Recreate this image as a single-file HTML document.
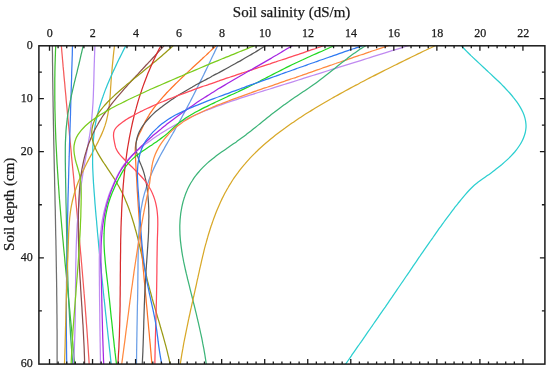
<!DOCTYPE html>
<html><head><meta charset="utf-8"><style>
html,body{margin:0;padding:0;background:#fff;width:550px;height:372px;overflow:hidden}
svg{display:block}
.t{font-family:"Liberation Serif",serif;font-size:12px;fill:#1a1a1a;stroke:#1a1a1a;stroke-width:0.25}
.ti{font-family:"Liberation Serif",serif;font-size:15px;fill:#1a1a1a;stroke:#1a1a1a;stroke-width:0.25}
.c path{fill:none;stroke-width:1.25;stroke-linejoin:round;stroke-linecap:round}
</style></head><body>
<svg width="550" height="372" viewBox="0 0 550 372">
<defs><clipPath id="cp"><rect x="38.9" y="45.8" width="506.00" height="318.30"/></clipPath></defs>
<g class="c" clip-path="url(#cp)">
<path d="M52.4,42.5C52.4,43.5 52.4,46.5 52.4,48.5C52.4,50.5 52.4,52.5 52.5,54.5C52.5,56.5 52.5,58.5 52.5,60.5C52.5,62.5 52.6,64.5 52.6,66.5C52.6,68.5 52.6,70.5 52.6,72.5C52.7,74.5 52.7,76.5 52.7,78.5C52.7,80.5 52.8,82.5 52.8,84.5C52.8,86.5 52.8,88.5 52.9,90.5C52.9,92.5 52.9,94.5 53.0,96.5C53.0,98.5 53.0,100.5 53.1,102.5C53.1,104.5 53.1,106.5 53.2,108.5C53.2,110.5 53.2,112.5 53.3,114.5C53.3,116.5 53.3,118.5 53.4,120.5C53.4,122.5 53.4,124.5 53.5,126.5C53.5,128.5 53.6,130.5 53.6,132.5C53.6,134.5 53.7,136.5 53.7,138.5C53.8,140.5 53.8,142.5 53.8,144.5C53.9,146.5 53.9,148.5 54.0,150.5C54.0,152.5 54.0,154.5 54.1,156.5C54.1,158.5 54.2,160.5 54.2,162.5C54.3,164.5 54.3,166.5 54.3,168.5C54.4,170.5 54.4,172.5 54.5,174.5C54.5,176.5 54.6,178.5 54.6,180.5C54.6,182.5 54.7,184.5 54.7,186.5C54.8,188.5 54.8,190.5 54.9,192.5C54.9,194.5 55.0,196.5 55.0,198.5C55.0,200.5 55.1,202.5 55.1,204.5C55.2,206.5 55.2,208.5 55.3,210.5C55.3,212.5 55.3,214.5 55.4,216.5C55.4,218.5 55.5,220.5 55.5,222.5C55.5,224.5 55.6,226.5 55.6,228.5C55.7,230.5 55.7,232.5 55.7,234.5C55.8,236.5 55.8,238.5 55.9,240.5C55.9,242.5 55.9,244.5 56.0,246.5C56.0,248.5 56.1,250.5 56.1,252.5C56.1,254.5 56.2,256.5 56.2,258.5C56.2,260.5 56.3,262.5 56.3,264.5C56.3,266.5 56.4,268.5 56.4,270.5C56.4,272.5 56.5,274.5 56.5,276.5C56.5,278.5 56.6,280.5 56.6,282.5C56.6,284.5 56.6,286.5 56.7,288.5C56.7,290.5 56.7,292.5 56.7,294.5C56.8,296.5 56.8,298.5 56.8,300.5C56.8,302.5 56.9,304.5 56.9,306.5C56.9,308.5 56.9,310.5 56.9,312.5C57.0,314.5 57.0,316.5 57.0,318.5C57.0,320.5 57.0,322.5 57.0,324.5C57.0,326.5 57.0,328.5 57.1,330.5C57.1,332.5 57.1,334.5 57.1,336.5C57.1,338.5 57.1,340.5 57.1,342.5C57.1,344.5 57.1,346.5 57.1,348.5C57.1,350.5 57.1,352.5 57.1,354.5C57.1,356.5 57.1,358.5 57.1,360.5C57.1,362.5 57.1,365.4 57.1,366.5C57.1,367.5 57.1,366.9 57.1,367.0" stroke="#6e6e6e"/>
<path d="M55.8,42.5C55.8,43.5 55.7,46.5 55.6,48.5C55.5,50.5 55.4,52.5 55.4,54.5C55.3,56.5 55.2,58.5 55.2,60.5C55.1,62.5 55.1,64.5 55.0,66.5C55.0,68.5 54.9,70.5 54.9,72.5C54.9,74.5 54.9,76.5 54.8,78.5C54.8,80.5 54.8,82.5 54.8,84.5C54.8,86.5 54.8,88.5 54.8,90.5C54.8,92.5 54.8,94.5 54.8,96.5C54.8,98.5 54.8,100.5 54.9,102.5C54.9,104.5 54.9,106.5 54.9,108.5C55.0,110.5 55.0,112.5 55.1,114.5C55.1,116.5 55.2,118.5 55.2,120.5C55.3,122.5 55.3,124.5 55.4,126.5C55.5,128.5 55.5,130.5 55.6,132.5C55.7,134.5 55.8,136.5 55.8,138.5C55.9,140.5 56.0,142.5 56.1,144.5C56.2,146.5 56.3,148.5 56.4,150.5C56.5,152.5 56.6,154.5 56.7,156.4C56.8,158.4 56.9,160.4 57.0,162.4C57.1,164.4 57.3,166.4 57.4,168.4C57.5,170.4 57.6,172.4 57.8,174.4C57.9,176.4 58.0,178.4 58.2,180.4C58.3,182.4 58.4,184.4 58.6,186.4C58.7,188.4 58.9,190.4 59.0,192.4C59.1,194.4 59.3,196.4 59.4,198.4C59.6,200.4 59.8,202.4 59.9,204.3C60.1,206.3 60.2,208.3 60.4,210.3C60.6,212.3 60.7,214.3 60.9,216.3C61.1,218.3 61.2,220.3 61.4,222.3C61.6,224.3 61.7,226.3 61.9,228.3C62.1,230.3 62.3,232.2 62.4,234.2C62.6,236.2 62.8,238.2 63.0,240.2C63.2,242.2 63.4,244.2 63.5,246.2C63.7,248.2 63.9,250.2 64.1,252.2C64.3,254.2 64.5,256.1 64.7,258.1C64.8,260.1 65.0,262.1 65.2,264.1C65.4,266.1 65.6,268.1 65.8,270.1C66.0,272.1 66.2,274.1 66.4,276.1C66.6,278.0 66.8,280.0 67.0,282.0C67.1,284.0 67.3,286.0 67.5,288.0C67.7,290.0 67.9,292.0 68.1,294.0C68.3,296.0 68.5,298.0 68.7,299.9C68.9,301.9 69.1,303.9 69.3,305.9C69.5,307.9 69.7,309.9 69.9,311.9C70.0,313.9 70.2,315.9 70.4,317.9C70.6,319.9 70.8,321.8 71.0,323.8C71.2,325.8 71.4,327.8 71.6,329.8C71.8,331.8 71.9,333.8 72.1,335.8C72.3,337.8 72.5,339.8 72.7,341.8C72.9,343.7 73.0,345.7 73.2,347.7C73.4,349.7 73.6,351.7 73.8,353.7C73.9,355.7 74.1,357.7 74.3,359.7C74.5,361.7 74.7,364.4 74.8,365.7C74.9,366.9 74.9,366.8 74.9,367.0" stroke="#3fbf2f"/>
<path d="M61.1,42.5C61.1,43.5 61.4,46.5 61.6,48.5C61.7,50.5 61.9,52.5 62.1,54.5C62.3,56.4 62.4,58.4 62.6,60.4C62.8,62.4 63.0,64.4 63.1,66.4C63.3,68.4 63.5,70.4 63.7,72.4C63.8,74.4 64.0,76.4 64.2,78.4C64.4,80.4 64.6,82.3 64.8,84.3C64.9,86.3 65.1,88.3 65.3,90.3C65.5,92.3 65.7,94.3 65.9,96.3C66.0,98.3 66.2,100.3 66.4,102.3C66.6,104.3 66.8,106.2 67.0,108.2C67.2,110.2 67.4,112.2 67.5,114.2C67.7,116.2 67.9,118.2 68.1,120.2C68.3,122.2 68.5,124.2 68.7,126.2C68.9,128.1 69.1,130.1 69.3,132.1C69.4,134.1 69.6,136.1 69.8,138.1C70.0,140.1 70.2,142.1 70.4,144.1C70.6,146.1 70.8,148.1 71.0,150.0C71.2,152.0 71.4,154.0 71.5,156.0C71.7,158.0 71.9,160.0 72.1,162.0C72.3,164.0 72.5,166.0 72.7,168.0C72.9,170.0 73.1,171.9 73.3,173.9C73.5,175.9 73.7,177.9 73.9,179.9C74.0,181.9 74.2,183.9 74.4,185.9C74.6,187.9 74.8,189.9 75.0,191.9C75.2,193.8 75.4,195.8 75.6,197.8C75.8,199.8 75.9,201.8 76.1,203.8C76.3,205.8 76.5,207.8 76.7,209.8C76.9,211.8 77.1,213.8 77.3,215.7C77.4,217.7 77.6,219.7 77.8,221.7C78.0,223.7 78.2,225.7 78.4,227.7C78.6,229.7 78.7,231.7 78.9,233.7C79.1,235.7 79.3,237.7 79.5,239.6C79.6,241.6 79.8,243.6 80.0,245.6C80.2,247.6 80.4,249.6 80.5,251.6C80.7,253.6 80.9,255.6 81.1,257.6C81.2,259.6 81.4,261.6 81.6,263.5C81.8,265.5 81.9,267.5 82.1,269.5C82.3,271.5 82.5,273.5 82.6,275.5C82.8,277.5 83.0,279.5 83.1,281.5C83.3,283.5 83.5,285.5 83.6,287.5C83.8,289.5 84.0,291.4 84.1,293.4C84.3,295.4 84.4,297.4 84.6,299.4C84.8,301.4 84.9,303.4 85.1,305.4C85.2,307.4 85.4,309.4 85.5,311.4C85.7,313.4 85.8,315.4 86.0,317.4C86.1,319.4 86.3,321.4 86.4,323.3C86.6,325.3 86.7,327.3 86.9,329.3C87.0,331.3 87.2,333.3 87.3,335.3C87.4,337.3 87.6,339.3 87.7,341.3C87.8,343.3 88.0,345.3 88.1,347.3C88.2,349.3 88.4,351.3 88.5,353.3C88.6,355.3 88.8,357.3 88.9,359.3C89.0,361.3 89.2,364.0 89.2,365.3C89.3,366.5 89.3,366.7 89.4,367.0" stroke="#f55a5a"/>
<path d="M72.6,42.5C72.6,43.5 72.5,46.5 72.4,48.5C72.4,50.5 72.3,52.5 72.3,54.5C72.2,56.5 72.1,58.5 72.1,60.5C72.0,62.5 72.0,64.5 71.9,66.5C71.8,68.5 71.8,70.5 71.7,72.5C71.7,74.5 71.6,76.5 71.6,78.5C71.5,80.5 71.4,82.5 71.4,84.5C71.3,86.5 71.2,88.5 71.2,90.5C71.1,92.5 71.1,94.5 71.0,96.5C70.9,98.5 70.9,100.5 70.8,102.5C70.8,104.5 70.7,106.5 70.6,108.5C70.6,110.5 70.5,112.5 70.5,114.5C70.4,116.5 70.3,118.5 70.3,120.5C70.2,122.5 70.1,124.5 70.1,126.5C70.0,128.5 70.0,130.5 69.9,132.5C69.8,134.5 69.8,136.5 69.7,138.5C69.7,140.5 69.6,142.5 69.5,144.5C69.5,146.5 69.4,148.5 69.4,150.5C69.3,152.5 69.2,154.5 69.2,156.4C69.1,158.4 69.1,160.4 69.0,162.4C69.0,164.4 68.9,166.4 68.8,168.4C68.8,170.4 68.7,172.4 68.7,174.4C68.6,176.4 68.6,178.4 68.5,180.4C68.5,182.4 68.4,184.4 68.4,186.4C68.3,188.4 68.3,190.4 68.2,192.4C68.1,194.4 68.1,196.4 68.0,198.4C68.0,200.4 67.9,202.4 67.9,204.4C67.9,206.4 67.8,208.4 67.8,210.4C67.7,212.4 67.7,214.4 67.6,216.4C67.6,218.4 67.5,220.4 67.5,222.4C67.4,224.4 67.4,226.4 67.4,228.4C67.3,230.4 67.3,232.4 67.2,234.4C67.2,236.4 67.2,238.4 67.1,240.4C67.1,242.4 67.1,244.4 67.0,246.4C67.0,248.4 67.0,250.4 66.9,252.4C66.9,254.4 66.9,256.4 66.8,258.4C66.8,260.4 66.8,262.4 66.7,264.4C66.7,266.4 66.7,268.4 66.7,270.4C66.6,272.4 66.6,274.4 66.6,276.4C66.6,278.4 66.6,280.4 66.5,282.4C66.5,284.4 66.5,286.4 66.5,288.4C66.5,290.4 66.5,292.4 66.4,294.4C66.4,296.4 66.4,298.4 66.4,300.4C66.4,302.4 66.4,304.4 66.4,306.4C66.4,308.4 66.4,310.4 66.4,312.4C66.4,314.4 66.4,316.4 66.4,318.4C66.4,320.4 66.4,322.4 66.4,324.4C66.4,326.4 66.4,328.4 66.4,330.4C66.4,332.4 66.4,334.4 66.4,336.4C66.4,338.4 66.4,340.4 66.5,342.4C66.5,344.4 66.5,346.4 66.5,348.4C66.5,350.4 66.6,352.4 66.6,354.4C66.6,356.4 66.6,358.4 66.7,360.4C66.7,362.4 66.7,365.3 66.8,366.4C66.8,367.5 66.8,366.9 66.8,367.0" stroke="#3a7bf0"/>
<path d="M83.8,42.5C83.6,43.5 83.0,46.4 82.6,48.4C82.1,50.3 81.7,52.3 81.2,54.2C80.8,56.2 80.3,58.1 79.9,60.1C79.4,62.0 79.0,64.0 78.5,65.9C78.0,67.9 77.5,69.8 77.1,71.8C76.6,73.7 76.1,75.6 75.6,77.6C75.2,79.5 74.7,81.5 74.2,83.4C73.8,85.4 73.3,87.3 72.8,89.3C72.4,91.2 72.0,93.2 71.5,95.1C71.1,97.1 70.7,99.0 70.3,101.0C69.9,102.9 69.5,104.9 69.2,106.8C68.8,108.8 68.5,110.8 68.1,112.7C67.8,114.7 67.5,116.7 67.3,118.7C67.0,120.6 66.8,122.6 66.6,124.6C66.3,126.6 66.2,128.6 66.0,130.6C65.9,132.6 65.8,134.6 65.7,136.6C65.6,138.6 65.5,140.6 65.4,142.6C65.4,144.6 65.3,146.6 65.3,148.6C65.3,150.6 65.3,152.6 65.3,154.6C65.3,156.6 65.3,158.6 65.3,160.6C65.3,162.6 65.4,164.6 65.4,166.6C65.4,168.6 65.4,170.6 65.5,172.6C65.5,174.6 65.5,176.6 65.6,178.6C65.6,180.6 65.6,182.6 65.7,184.6C65.7,186.6 65.8,188.6 65.8,190.6C65.8,192.6 65.9,194.6 65.9,196.6C66.0,198.6 66.0,200.6 66.0,202.6C66.1,204.6 66.1,206.6 66.2,208.6C66.2,210.6 66.2,212.6 66.3,214.6C66.3,216.6 66.4,218.6 66.4,220.5C66.4,222.5 66.5,224.5 66.5,226.5C66.6,228.5 66.6,230.5 66.6,232.5C66.7,234.5 66.7,236.5 66.8,238.5C66.8,240.5 66.9,242.5 66.9,244.5C67.0,246.5 67.0,248.5 67.1,250.5C67.1,252.5 67.2,254.5 67.2,256.5C67.3,258.5 67.3,260.5 67.4,262.5C67.4,264.5 67.5,266.5 67.5,268.5C67.6,270.5 67.7,272.5 67.7,274.5C67.8,276.5 67.9,278.5 67.9,280.5C68.0,282.5 68.1,284.5 68.1,286.5C68.2,288.5 68.3,290.5 68.4,292.5C68.5,294.5 68.5,296.5 68.6,298.5C68.7,300.5 68.8,302.5 68.9,304.5C69.0,306.5 69.1,308.5 69.2,310.5C69.3,312.5 69.4,314.5 69.5,316.5C69.6,318.5 69.7,320.5 69.8,322.5C69.9,324.5 70.0,326.5 70.2,328.5C70.3,330.5 70.4,332.5 70.5,334.5C70.7,336.5 70.8,338.5 70.9,340.5C71.1,342.5 71.2,344.4 71.4,346.4C71.5,348.4 71.7,350.4 71.8,352.4C72.0,354.4 72.2,356.4 72.3,358.4C72.5,360.4 72.7,363.0 72.8,364.4C73.0,365.8 73.0,366.6 73.1,367.0" stroke="#3aae6a"/>
<path d="M95.2,42.5C95.1,43.5 94.9,46.5 94.8,48.5C94.7,50.5 94.7,52.5 94.6,54.5C94.5,56.5 94.4,58.5 94.4,60.5C94.3,62.5 94.2,64.5 94.2,66.5C94.1,68.5 94.1,70.5 94.0,72.5C94.0,74.5 93.9,76.5 93.9,78.5C93.8,80.5 93.8,82.5 93.7,84.5C93.6,86.5 93.6,88.5 93.5,90.5C93.4,92.5 93.4,94.5 93.3,96.5C93.2,98.5 93.1,100.5 93.0,102.5C92.9,104.5 92.7,106.4 92.6,108.4C92.5,110.4 92.3,112.4 92.1,114.4C92.0,116.4 91.8,118.4 91.6,120.4C91.4,122.4 91.1,124.4 90.9,126.4C90.6,128.4 90.4,130.3 90.1,132.3C89.8,134.3 89.5,136.3 89.1,138.3C88.8,140.2 88.5,142.2 88.1,144.2C87.8,146.2 87.4,148.1 87.1,150.1C86.7,152.1 86.3,154.0 86.0,156.0C85.6,158.0 85.3,159.9 84.9,161.9C84.5,163.9 84.2,165.8 83.9,167.8C83.5,169.8 83.2,171.7 82.9,173.7C82.6,175.7 82.3,177.7 82.0,179.6C81.7,181.6 81.4,183.6 81.1,185.6C80.8,187.6 80.6,189.5 80.3,191.5C80.1,193.5 79.8,195.5 79.6,197.5C79.4,199.5 79.2,201.4 79.0,203.4C78.8,205.4 78.6,207.4 78.4,209.4C78.2,211.4 78.1,213.4 77.9,215.4C77.8,217.4 77.6,219.4 77.5,221.4C77.3,223.4 77.2,225.4 77.1,227.3C77.0,229.3 76.9,231.3 76.8,233.3C76.7,235.3 76.6,237.3 76.5,239.3C76.4,241.3 76.4,243.3 76.3,245.3C76.2,247.3 76.2,249.3 76.1,251.3C76.0,253.3 76.0,255.3 76.0,257.3C75.9,259.3 75.9,261.3 75.8,263.3C75.8,265.3 75.8,267.3 75.7,269.3C75.7,271.3 75.7,273.3 75.7,275.3C75.6,277.3 75.6,279.3 75.6,281.3C75.6,283.3 75.6,285.3 75.5,287.3C75.5,289.3 75.5,291.3 75.5,293.3C75.5,295.3 75.5,297.3 75.4,299.3C75.4,301.3 75.4,303.3 75.4,305.3C75.4,307.3 75.3,309.3 75.3,311.3C75.3,313.3 75.3,315.3 75.2,317.3C75.2,319.3 75.2,321.3 75.1,323.3C75.1,325.3 75.0,327.3 75.0,329.3C74.9,331.3 74.9,333.3 74.8,335.3C74.8,337.3 74.7,339.3 74.6,341.3C74.5,343.3 74.5,345.3 74.4,347.3C74.3,349.3 74.2,351.3 74.1,353.3C74.0,355.3 73.9,357.3 73.7,359.3C73.6,361.3 73.4,364.0 73.3,365.3C73.2,366.6 73.2,366.7 73.2,367.0" stroke="#b98af5"/>
<path d="M114.8,42.5C114.7,43.5 114.4,46.5 114.2,48.5C113.9,50.5 113.7,52.4 113.5,54.4C113.3,56.4 113.1,58.4 112.9,60.4C112.7,62.4 112.5,64.4 112.3,66.4C112.1,68.4 112.0,70.3 111.8,72.3C111.6,74.3 111.4,76.3 111.3,78.3C111.1,80.3 111.0,82.3 110.9,84.3C110.7,86.3 110.6,88.3 110.5,90.3C110.4,92.3 110.3,94.3 110.1,96.3C110.0,98.3 109.8,100.3 109.6,102.3C109.4,104.3 109.2,106.2 108.9,108.2C108.6,110.2 108.3,112.2 107.9,114.2C107.5,116.1 107.1,118.1 106.6,120.1C106.1,122.0 105.5,124.0 104.9,125.9C104.2,127.8 103.5,129.7 102.8,131.6C102.0,133.4 101.2,135.3 100.3,137.1C99.5,138.9 98.6,140.8 97.7,142.6C96.8,144.4 95.8,146.1 94.9,147.9C94.0,149.7 93.0,151.4 92.1,153.2C91.1,155.0 90.2,156.7 89.2,158.5C88.3,160.3 87.4,162.0 86.5,163.8C85.6,165.6 84.7,167.4 83.9,169.2C83.0,171.0 82.2,172.8 81.4,174.6C80.6,176.4 79.8,178.2 79.1,180.1C78.3,181.9 77.6,183.8 76.9,185.6C76.3,187.5 75.6,189.4 75.0,191.3C74.4,193.2 73.9,195.1 73.4,197.0C72.9,198.9 72.4,200.9 72.0,202.8C71.6,204.7 71.2,206.7 70.9,208.7C70.6,210.6 70.3,212.6 70.1,214.6C69.8,216.6 69.6,218.6 69.5,220.6C69.3,222.5 69.2,224.5 69.0,226.5C68.9,228.5 68.8,230.5 68.7,232.5C68.6,234.5 68.6,236.5 68.5,238.5C68.4,240.5 68.4,242.5 68.3,244.5C68.2,246.5 68.2,248.5 68.1,250.5C68.0,252.5 67.9,254.5 67.9,256.5C67.8,258.5 67.7,260.5 67.6,262.5C67.5,264.5 67.4,266.5 67.4,268.5C67.3,270.5 67.2,272.5 67.1,274.5C67.0,276.5 67.0,278.5 66.9,280.5C66.8,282.5 66.7,284.5 66.7,286.5C66.6,288.5 66.5,290.5 66.5,292.5C66.4,294.5 66.4,296.5 66.3,298.5C66.3,300.5 66.2,302.5 66.1,304.5C66.1,306.5 66.0,308.5 66.0,310.5C65.9,312.5 65.9,314.5 65.8,316.5C65.8,318.5 65.7,320.5 65.7,322.5C65.6,324.5 65.6,326.5 65.5,328.5C65.5,330.5 65.4,332.5 65.4,334.5C65.3,336.5 65.3,338.5 65.2,340.5C65.2,342.5 65.1,344.5 65.1,346.5C65.0,348.5 64.9,350.5 64.9,352.5C64.8,354.5 64.7,356.5 64.7,358.5C64.6,360.5 64.5,363.0 64.5,364.4C64.4,365.9 64.4,366.6 64.4,367.0" stroke="#d8a62c"/>
<path d="M127.4,42.5C126.9,43.4 125.6,46.1 124.7,47.9C123.8,49.6 122.9,51.4 122.0,53.2C121.1,55.0 120.2,56.8 119.3,58.6C118.5,60.4 117.6,62.2 116.7,64.0C115.9,65.8 115.0,67.6 114.2,69.4C113.3,71.2 112.5,73.0 111.7,74.8C110.9,76.7 110.1,78.5 109.3,80.3C108.5,82.1 107.8,84.0 107.0,85.8C106.3,87.7 105.5,89.5 104.8,91.4C104.1,93.3 103.4,95.1 102.8,97.0C102.1,98.9 101.5,100.8 100.9,102.7C100.3,104.6 99.7,106.5 99.1,108.4C98.6,110.3 98.1,112.2 97.6,114.1C97.1,116.1 96.7,118.0 96.2,120.0C95.8,121.9 95.5,123.9 95.1,125.8C94.8,127.8 94.5,129.8 94.2,131.8C94.0,133.7 93.8,135.7 93.6,137.7C93.4,139.7 93.2,141.7 93.1,143.7C92.9,145.7 92.8,147.7 92.8,149.7C92.7,151.7 92.6,153.7 92.6,155.7C92.6,157.7 92.6,159.7 92.6,161.7C92.6,163.7 92.7,165.7 92.7,167.7C92.8,169.7 92.9,171.7 93.0,173.7C93.1,175.7 93.2,177.6 93.3,179.6C93.4,181.6 93.5,183.6 93.7,185.6C93.8,187.6 94.0,189.6 94.1,191.6C94.3,193.6 94.4,195.6 94.6,197.6C94.7,199.6 94.9,201.6 95.0,203.6C95.2,205.6 95.4,207.6 95.5,209.6C95.7,211.6 95.9,213.6 96.0,215.5C96.2,217.5 96.4,219.5 96.6,221.5C96.7,223.5 96.9,225.5 97.1,227.5C97.3,229.5 97.4,231.5 97.6,233.5C97.8,235.5 98.0,237.5 98.2,239.5C98.4,241.4 98.5,243.4 98.7,245.4C98.9,247.4 99.1,249.4 99.3,251.4C99.5,253.4 99.7,255.4 99.9,257.4C100.1,259.4 100.3,261.4 100.5,263.3C100.7,265.3 100.9,267.3 101.1,269.3C101.3,271.3 101.5,273.3 101.7,275.3C101.9,277.3 102.1,279.3 102.3,281.3C102.5,283.2 102.7,285.2 102.9,287.2C103.1,289.2 103.3,291.2 103.5,293.2C103.7,295.2 103.9,297.2 104.1,299.2C104.4,301.1 104.6,303.1 104.8,305.1C105.0,307.1 105.2,309.1 105.4,311.1C105.6,313.1 105.8,315.1 106.1,317.1C106.3,319.0 106.5,321.0 106.7,323.0C106.9,325.0 107.1,327.0 107.4,329.0C107.6,331.0 107.8,333.0 108.0,335.0C108.2,336.9 108.4,338.9 108.7,340.9C108.9,342.9 109.1,344.9 109.3,346.9C109.5,348.9 109.8,350.9 110.0,352.8C110.2,354.8 110.4,356.8 110.6,358.8C110.9,360.8 111.1,363.4 111.3,364.8C111.4,366.1 111.5,366.6 111.5,367.0" stroke="#2cc8d2"/>
<path d="M166.7,42.5C166.1,43.3 164.1,45.5 162.8,47.1C161.4,48.6 160.1,50.1 158.7,51.6C157.4,53.0 156.0,54.5 154.7,56.0C153.3,57.5 152.0,59.0 150.6,60.4C149.2,61.9 147.9,63.4 146.5,64.8C145.1,66.3 143.7,67.7 142.4,69.2C141.0,70.7 139.6,72.1 138.3,73.6C136.9,75.0 135.6,76.5 134.2,78.0C132.9,79.4 131.5,80.9 130.2,82.4C128.8,83.8 127.5,85.3 126.2,86.8C124.8,88.3 123.5,89.8 122.2,91.3C120.9,92.8 119.6,94.3 118.3,95.8C117.0,97.3 115.8,98.8 114.5,100.4C113.3,101.9 112.0,103.5 110.8,105.0C109.6,106.6 108.4,108.2 107.3,109.8C106.1,111.4 104.9,113.0 103.8,114.6C102.7,116.3 101.6,117.9 100.6,119.6C99.5,121.3 98.5,123.0 97.6,124.7C96.6,126.4 95.6,128.1 94.7,129.9C93.9,131.6 93.0,133.4 92.2,135.2C91.4,137.0 90.6,138.9 89.9,140.7C89.1,142.5 88.4,144.4 87.8,146.3C87.2,148.2 86.5,150.1 86.0,152.0C85.4,153.9 84.9,155.8 84.4,157.7C83.9,159.6 83.5,161.6 83.1,163.5C82.7,165.5 82.3,167.4 81.9,169.4C81.6,171.4 81.3,173.3 81.0,175.3C80.7,177.3 80.5,179.3 80.3,181.3C80.1,183.2 79.9,185.2 79.7,187.2C79.5,189.2 79.4,191.2 79.3,193.2C79.1,195.2 79.0,197.2 78.9,199.2C78.8,201.2 78.7,203.2 78.7,205.2C78.6,207.2 78.5,209.2 78.5,211.2C78.4,213.2 78.4,215.2 78.4,217.2C78.3,219.2 78.3,221.2 78.3,223.2C78.3,225.2 78.3,227.2 78.3,229.2C78.3,231.2 78.4,233.2 78.4,235.2C78.4,237.2 78.5,239.2 78.5,241.2C78.6,243.2 78.6,245.2 78.7,247.2C78.7,249.2 78.8,251.2 78.9,253.2C79.0,255.2 79.0,257.2 79.1,259.2C79.2,261.2 79.3,263.2 79.4,265.2C79.5,267.2 79.6,269.1 79.7,271.1C79.8,273.1 79.9,275.1 80.0,277.1C80.1,279.1 80.3,281.1 80.4,283.1C80.5,285.1 80.6,287.1 80.7,289.1C80.9,291.1 81.0,293.1 81.1,295.1C81.2,297.1 81.4,299.1 81.5,301.1C81.6,303.1 81.7,305.1 81.9,307.1C82.0,309.1 82.1,311.1 82.2,313.1C82.4,315.1 82.5,317.1 82.6,319.1C82.7,321.1 82.8,323.1 83.0,325.0C83.1,327.0 83.2,329.0 83.3,331.0C83.4,333.0 83.5,335.0 83.6,337.0C83.7,339.0 83.8,341.0 83.9,343.0C84.0,345.0 84.1,347.0 84.2,349.0C84.2,351.0 84.3,353.0 84.4,355.0C84.5,357.0 84.5,359.0 84.6,361.0C84.6,363.0 84.7,366.0 84.7,367.0" stroke="#8c4f4f"/>
<path d="M176.4,42.5C175.7,43.2 173.5,45.3 172.0,46.7C170.5,48.1 169.0,49.5 167.5,50.8C166.0,52.2 164.5,53.5 163.0,54.8C161.5,56.2 159.9,57.5 158.4,58.8C156.9,60.1 155.3,61.3 153.8,62.6C152.2,63.9 150.7,65.2 149.1,66.5C147.5,67.7 146.0,69.0 144.4,70.3C142.9,71.5 141.3,72.8 139.8,74.0C138.2,75.3 136.7,76.6 135.1,77.8C133.6,79.1 132.0,80.3 130.5,81.6C129.0,82.9 127.4,84.1 125.9,85.4C124.4,86.7 122.9,88.0 121.4,89.3C119.9,90.6 118.4,91.9 116.9,93.2C115.4,94.5 114.0,95.9 112.6,97.2C111.1,98.6 109.7,99.9 108.4,101.3C107.0,102.7 105.7,104.2 104.4,105.6C103.1,107.1 101.9,108.6 100.7,110.1C99.5,111.7 98.4,113.3 97.4,114.9C96.4,116.6 95.5,118.3 94.7,120.0C93.9,121.8 93.2,123.6 92.7,125.5C92.2,127.4 91.9,129.3 91.8,131.3C91.7,133.3 91.8,135.3 92.0,137.3C92.3,139.3 92.8,141.3 93.4,143.2C94.0,145.2 94.8,147.1 95.7,149.0C96.5,150.8 97.5,152.6 98.5,154.4C99.5,156.2 100.6,157.9 101.7,159.6C102.7,161.3 103.9,163.0 105.0,164.7C106.1,166.4 107.2,168.0 108.3,169.7C109.4,171.3 110.5,173.0 111.6,174.7C112.7,176.3 113.8,178.0 114.9,179.7C115.9,181.4 116.9,183.0 117.9,184.8C118.9,186.5 119.8,188.2 120.7,190.0C121.7,191.7 122.5,193.5 123.4,195.3C124.2,197.1 125.0,198.9 125.7,200.7C126.5,202.6 127.3,204.4 128.0,206.3C128.7,208.1 129.4,210.0 130.0,211.9C130.7,213.8 131.3,215.6 131.9,217.5C132.5,219.4 133.1,221.3 133.7,223.2C134.3,225.2 134.8,227.1 135.3,229.0C135.9,230.9 136.4,232.8 136.9,234.8C137.4,236.7 137.9,238.6 138.4,240.6C138.8,242.5 139.3,244.5 139.7,246.4C140.2,248.4 140.6,250.3 141.1,252.3C141.5,254.2 142.0,256.2 142.4,258.1C142.8,260.1 143.3,262.0 143.7,264.0C144.1,265.9 144.6,267.9 145.0,269.8C145.5,271.8 145.9,273.7 146.4,275.7C146.8,277.6 147.3,279.6 147.7,281.5C148.2,283.5 148.7,285.4 149.2,287.4C149.7,289.3 150.2,291.2 150.8,293.2C151.3,295.1 151.8,297.0 152.3,299.0C152.9,300.9 153.4,302.8 154.0,304.7C154.5,306.7 155.1,308.6 155.7,310.5C156.2,312.4 156.8,314.3 157.4,316.3C157.9,318.2 158.5,320.1 159.1,322.0C159.6,323.9 160.2,325.8 160.7,327.8C161.3,329.7 161.8,331.6 162.4,333.5C162.9,335.4 163.5,337.4 164.0,339.3C164.5,341.2 165.1,343.1 165.6,345.1C166.1,347.0 166.6,348.9 167.1,350.9C167.6,352.8 168.0,354.8 168.5,356.7C169.0,358.6 169.4,360.8 169.8,362.5C170.2,364.3 170.6,366.3 170.7,367.0" stroke="#9a9a14"/>
<path d="M162.6,42.5C162.1,43.4 160.7,46.0 159.8,47.8C158.9,49.5 158.0,51.3 157.1,53.1C156.2,54.9 155.3,56.7 154.5,58.5C153.6,60.3 152.8,62.1 152.0,63.9C151.2,65.7 150.4,67.5 149.6,69.4C148.8,71.2 148.1,73.0 147.3,74.9C146.6,76.7 145.9,78.6 145.2,80.5C144.5,82.3 143.8,84.2 143.1,86.1C142.4,88.0 141.8,89.8 141.2,91.7C140.5,93.6 139.9,95.5 139.3,97.4C138.7,99.3 138.1,101.2 137.6,103.1C137.0,105.1 136.5,107.0 136.0,108.9C135.4,110.8 134.9,112.8 134.4,114.7C133.9,116.6 133.5,118.6 133.0,120.5C132.5,122.5 132.1,124.4 131.7,126.4C131.3,128.3 130.8,130.3 130.5,132.2C130.1,134.2 129.7,136.1 129.3,138.1C129.0,140.1 128.6,142.0 128.3,144.0C127.9,146.0 127.6,147.9 127.3,149.9C127.0,151.9 126.7,153.9 126.5,155.8C126.2,157.8 125.9,159.8 125.7,161.8C125.4,163.8 125.2,165.8 125.0,167.7C124.7,169.7 124.5,171.7 124.3,173.7C124.1,175.7 123.9,177.7 123.7,179.7C123.6,181.7 123.4,183.7 123.2,185.6C123.1,187.6 122.9,189.6 122.8,191.6C122.6,193.6 122.5,195.6 122.4,197.6C122.2,199.6 122.1,201.6 122.0,203.6C121.9,205.6 121.8,207.6 121.7,209.6C121.6,211.6 121.5,213.6 121.5,215.6C121.4,217.6 121.3,219.6 121.2,221.6C121.2,223.6 121.1,225.6 121.0,227.6C121.0,229.6 120.9,231.6 120.9,233.6C120.8,235.6 120.8,237.6 120.7,239.6C120.7,241.6 120.7,243.6 120.6,245.6C120.6,247.6 120.6,249.6 120.6,251.6C120.5,253.6 120.5,255.6 120.5,257.6C120.5,259.6 120.4,261.6 120.4,263.6C120.4,265.6 120.4,267.6 120.4,269.6C120.4,271.6 120.3,273.6 120.3,275.6C120.3,277.6 120.3,279.6 120.3,281.6C120.3,283.6 120.3,285.6 120.2,287.6C120.2,289.6 120.2,291.6 120.2,293.6C120.2,295.6 120.1,297.6 120.1,299.6C120.1,301.6 120.1,303.6 120.1,305.6C120.0,307.6 120.0,309.6 120.0,311.6C119.9,313.6 119.9,315.6 119.8,317.6C119.8,319.6 119.8,321.6 119.7,323.6C119.7,325.6 119.6,327.6 119.5,329.6C119.5,331.6 119.4,333.6 119.4,335.6C119.3,337.6 119.2,339.6 119.1,341.6C119.0,343.6 119.0,345.6 118.9,347.5C118.8,349.5 118.7,351.5 118.5,353.5C118.4,355.5 118.3,357.5 118.2,359.5C118.1,361.5 117.9,364.3 117.8,365.5C117.7,366.8 117.7,366.8 117.7,367.0" stroke="#d82a2c"/>
<path d="M219.2,42.5C218.5,43.2 216.4,45.3 214.9,46.7C213.5,48.1 212.0,49.5 210.6,50.9C209.1,52.3 207.7,53.7 206.2,55.1C204.7,56.4 203.3,57.8 201.8,59.2C200.3,60.5 198.9,61.9 197.4,63.2C195.9,64.6 194.5,65.9 193.0,67.3C191.5,68.7 190.1,70.0 188.6,71.4C187.1,72.7 185.7,74.1 184.2,75.5C182.8,76.8 181.3,78.2 179.9,79.6C178.5,81.0 177.1,82.4 175.6,83.8C174.2,85.2 172.8,86.6 171.4,88.0C170.1,89.4 168.7,90.8 167.3,92.3C166.0,93.7 164.6,95.1 163.3,96.6C162.0,98.1 160.7,99.6 159.4,101.1C158.1,102.6 156.9,104.1 155.7,105.7C154.5,107.2 153.3,108.8 152.2,110.4C151.0,112.0 149.9,113.6 148.9,115.3C147.8,117.0 146.9,118.7 145.9,120.4C145.0,122.1 144.2,123.9 143.3,125.7C142.5,127.5 141.6,129.3 140.7,131.1C139.8,132.9 138.8,134.6 138.0,136.4C137.3,138.2 136.6,140.0 136.2,141.9C135.7,143.8 135.5,145.8 135.3,147.8C135.2,149.7 135.2,151.7 135.3,153.7C135.3,155.7 135.5,157.7 135.6,159.7C135.7,161.7 135.8,163.7 135.9,165.7C136.0,167.7 136.1,169.7 136.2,171.7C136.3,173.7 136.4,175.7 136.6,177.7C136.7,179.7 136.8,181.7 136.9,183.7C137.0,185.7 137.1,187.7 137.2,189.7C137.3,191.7 137.5,193.7 137.6,195.7C137.7,197.7 137.8,199.7 138.0,201.7C138.1,203.7 138.2,205.7 138.4,207.7C138.5,209.7 138.6,211.7 138.8,213.6C138.9,215.6 139.1,217.6 139.2,219.6C139.3,221.6 139.5,223.6 139.6,225.6C139.8,227.6 140.0,229.6 140.1,231.6C140.3,233.6 140.4,235.6 140.6,237.6C140.7,239.6 140.9,241.6 141.1,243.6C141.2,245.6 141.4,247.5 141.6,249.5C141.7,251.5 141.9,253.5 142.1,255.5C142.3,257.5 142.4,259.5 142.6,261.5C142.8,263.5 143.0,265.5 143.1,267.5C143.3,269.5 143.5,271.5 143.7,273.5C143.9,275.4 144.0,277.4 144.2,279.4C144.4,281.4 144.6,283.4 144.8,285.4C145.0,287.4 145.1,289.4 145.3,291.4C145.5,293.4 145.7,295.4 145.9,297.4C146.1,299.3 146.2,301.3 146.4,303.3C146.6,305.3 146.8,307.3 147.0,309.3C147.2,311.3 147.4,313.3 147.5,315.3C147.7,317.3 147.9,319.3 148.1,321.2C148.3,323.2 148.5,325.2 148.6,327.2C148.8,329.2 149.0,331.2 149.2,333.2C149.4,335.2 149.5,337.2 149.7,339.2C149.9,341.2 150.1,343.2 150.3,345.1C150.4,347.1 150.6,349.1 150.8,351.1C151.0,353.1 151.1,355.1 151.3,357.1C151.5,359.1 151.7,361.4 151.8,363.1C151.9,364.7 152.1,366.3 152.1,367.0" stroke="#ff7428"/>
<path d="M219.1,42.5C218.7,43.4 217.4,46.1 216.6,47.9C215.7,49.7 214.8,51.5 214.0,53.4C213.1,55.2 212.3,57.0 211.4,58.8C210.5,60.6 209.7,62.4 208.8,64.2C207.9,66.0 207.1,67.8 206.2,69.6C205.3,71.4 204.4,73.2 203.6,75.0C202.7,76.8 201.8,78.6 200.9,80.4C200.0,82.2 199.1,84.0 198.2,85.8C197.3,87.5 196.4,89.3 195.5,91.1C194.6,92.9 193.7,94.7 192.8,96.5C191.9,98.3 191.0,100.0 190.1,101.8C189.1,103.6 188.2,105.4 187.3,107.1C186.3,108.9 185.4,110.7 184.4,112.4C183.5,114.2 182.5,116.0 181.6,117.7C180.6,119.5 179.7,121.2 178.7,123.0C177.7,124.7 176.7,126.5 175.7,128.2C174.8,130.0 173.8,131.7 172.8,133.5C171.8,135.2 170.8,136.9 169.8,138.7C168.8,140.4 167.8,142.1 166.8,143.9C165.8,145.6 164.8,147.4 163.9,149.1C162.9,150.8 161.9,152.6 161.0,154.3C160.0,156.1 159.1,157.8 158.2,159.6C157.3,161.4 156.4,163.2 155.5,164.9C154.6,166.7 153.8,168.5 153.0,170.3C152.2,172.1 151.4,174.0 150.6,175.8C149.9,177.6 149.1,179.5 148.5,181.4C147.8,183.2 147.1,185.1 146.5,187.0C145.9,188.9 145.3,190.8 144.7,192.7C144.2,194.6 143.7,196.5 143.2,198.4C142.8,200.4 142.3,202.3 142.0,204.3C141.6,206.2 141.2,208.2 140.9,210.2C140.6,212.1 140.4,214.1 140.1,216.1C139.9,218.1 139.7,220.1 139.5,222.1C139.4,224.1 139.2,226.0 139.1,228.0C139.0,230.0 138.9,232.0 138.8,234.0C138.7,236.0 138.6,238.0 138.5,240.0C138.5,242.0 138.4,244.0 138.3,246.0C138.3,248.0 138.2,250.0 138.2,252.0C138.2,254.0 138.1,256.0 138.1,258.0C138.1,260.0 138.0,262.0 138.0,264.0C138.0,266.0 138.0,268.0 138.0,270.0C137.9,272.0 137.9,274.0 137.9,276.0C137.9,278.0 137.9,280.0 137.8,282.0C137.8,284.0 137.8,286.0 137.8,288.0C137.7,290.0 137.7,292.0 137.7,294.0C137.6,296.0 137.6,298.0 137.6,300.0C137.5,302.0 137.5,304.0 137.4,306.0C137.4,308.0 137.4,310.0 137.3,312.0C137.3,314.0 137.2,316.0 137.2,318.0C137.2,320.0 137.1,322.0 137.1,324.0C137.0,326.0 137.0,328.0 137.0,330.0C136.9,332.0 136.9,334.0 136.9,336.0C136.8,338.0 136.8,340.0 136.8,342.0C136.7,344.0 136.7,346.0 136.7,348.0C136.6,350.0 136.6,352.0 136.6,354.0C136.6,356.0 136.6,358.0 136.5,360.0C136.5,362.0 136.5,364.8 136.5,366.0C136.5,367.2 136.5,366.8 136.5,367.0" stroke="#6a9ee6"/>
<path d="M262.3,42.5C261.4,42.9 258.6,44.0 256.7,44.8C254.9,45.5 253.0,46.3 251.2,47.0C249.3,47.8 247.5,48.5 245.6,49.3C243.8,50.0 241.9,50.8 240.1,51.5C238.2,52.3 236.4,53.0 234.5,53.8C232.7,54.6 230.8,55.3 229.0,56.1C227.1,56.8 225.3,57.6 223.4,58.3C221.6,59.1 219.7,59.9 217.9,60.6C216.0,61.4 214.2,62.2 212.3,62.9C210.5,63.7 208.7,64.4 206.8,65.2C205.0,66.0 203.1,66.8 201.3,67.5C199.5,68.3 197.6,69.1 195.8,69.8C193.9,70.6 192.1,71.4 190.3,72.2C188.4,72.9 186.6,73.7 184.7,74.5C182.9,75.3 181.1,76.1 179.2,76.9C177.4,77.6 175.6,78.4 173.8,79.2C171.9,80.0 170.1,80.8 168.3,81.6C166.4,82.4 164.6,83.2 162.8,84.0C161.0,84.8 159.1,85.6 157.3,86.4C155.5,87.2 153.7,88.0 151.9,88.8C150.0,89.6 148.2,90.5 146.4,91.3C144.6,92.1 142.8,92.9 141.0,93.8C139.2,94.6 137.4,95.4 135.6,96.3C133.8,97.1 132.0,97.9 130.2,98.8C128.4,99.6 126.6,100.5 124.9,101.4C123.1,102.3 121.3,103.1 119.6,104.0C117.8,104.9 116.1,105.8 114.3,106.8C112.6,107.7 110.9,108.6 109.2,109.6C107.4,110.5 105.7,111.5 104.1,112.5C102.4,113.5 100.7,114.5 99.1,115.6C97.5,116.6 95.8,117.7 94.3,118.8C92.7,119.9 91.1,121.0 89.6,122.2C88.2,123.4 86.7,124.7 85.3,126.0C83.9,127.3 82.6,128.7 81.4,130.1C80.2,131.6 79.0,133.1 78.0,134.7C77.0,136.3 76.1,138.0 75.5,139.8C74.8,141.6 74.4,143.5 74.1,145.4C73.9,147.3 73.8,149.4 74.0,151.3C74.1,153.3 74.5,155.4 74.9,157.3C75.2,159.3 75.8,161.3 76.3,163.2C76.9,165.1 77.5,167.0 78.0,169.0C78.5,170.9 79.1,172.8 79.5,174.7C79.9,176.7 80.3,178.6 80.5,180.6C80.8,182.6 80.9,184.6 81.0,186.5C81.2,188.5 81.2,190.5 81.2,192.5C81.2,194.5 81.2,196.5 81.2,198.5C81.1,200.5 81.1,202.5 81.1,204.5C81.0,206.5 81.0,208.5 80.9,210.5C80.9,212.5 80.8,214.5 80.8,216.5C80.7,218.5 80.6,220.5 80.5,222.5C80.4,224.5 80.4,226.5 80.3,228.5C80.2,230.5 80.1,232.5 80.0,234.5C79.9,236.5 79.7,238.5 79.6,240.5C79.5,242.5 79.4,244.5 79.3,246.5C79.1,248.5 79.0,250.5 78.9,252.5C78.8,254.5 78.6,256.5 78.5,258.5C78.3,260.5 78.2,262.5 78.1,264.5C77.9,266.5 77.8,268.5 77.6,270.4C77.5,272.4 77.3,274.4 77.2,276.4C77.0,278.4 76.8,280.4 76.7,282.4C76.5,284.4 76.4,286.4 76.2,288.4C76.1,290.4 75.9,292.4 75.8,294.4C75.6,296.4 75.4,298.4 75.3,300.4C75.1,302.4 75.0,304.3 74.8,306.3C74.7,308.3 74.5,310.3 74.4,312.3C74.2,314.3 74.1,316.3 73.9,318.3C73.8,320.3 73.6,322.3 73.5,324.3C73.3,326.3 73.2,328.3 73.0,330.3C72.9,332.3 72.8,334.3 72.6,336.3C72.5,338.3 72.4,340.2 72.3,342.2C72.1,344.2 72.0,346.2 71.9,348.2C71.8,350.2 71.7,352.2 71.6,354.2C71.5,356.2 71.4,358.2 71.3,360.2C71.2,362.2 71.1,365.1 71.1,366.2C71.0,367.3 71.0,366.9 71.0,367.0" stroke="#7acc1c"/>
<path d="M270.4,42.5C269.6,43.0 267.0,44.7 265.3,45.8C263.6,46.9 261.9,48.0 260.2,49.0C258.5,50.1 256.8,51.1 255.1,52.2C253.3,53.2 251.6,54.3 249.9,55.3C248.1,56.3 246.4,57.3 244.6,58.3C242.9,59.4 241.1,60.4 239.4,61.4C237.6,62.3 235.9,63.3 234.1,64.3C232.4,65.3 230.6,66.3 228.8,67.2C227.1,68.2 225.3,69.2 223.5,70.1C221.8,71.1 220.0,72.0 218.2,73.0C216.5,73.9 214.7,74.8 212.9,75.8C211.2,76.7 209.4,77.7 207.6,78.6C205.9,79.6 204.1,80.5 202.4,81.4C200.6,82.4 198.9,83.3 197.1,84.3C195.4,85.3 193.7,86.2 192.0,87.2C190.2,88.2 188.5,89.2 186.8,90.2C185.1,91.2 183.4,92.2 181.7,93.2C180.1,94.2 178.4,95.3 176.7,96.3C175.1,97.4 173.4,98.5 171.8,99.6C170.2,100.7 168.6,101.8 167.0,102.9C165.4,104.1 163.8,105.2 162.3,106.4C160.7,107.6 159.2,108.8 157.7,110.1C156.2,111.3 154.7,112.6 153.3,113.9C151.9,115.2 150.5,116.6 149.2,118.0C147.9,119.4 146.6,120.8 145.4,122.3C144.2,123.8 143.0,125.4 142.0,127.0C141.0,128.7 140.0,130.3 139.2,132.1C138.4,133.8 137.7,135.7 137.2,137.5C136.7,139.4 136.3,141.3 136.1,143.3C135.9,145.2 135.9,147.3 136.1,149.3C136.3,151.3 136.8,153.3 137.4,155.2C137.9,157.2 138.7,159.1 139.4,161.0C140.1,162.9 141.0,164.7 141.7,166.6C142.4,168.4 143.1,170.2 143.7,172.1C144.3,174.0 144.8,175.9 145.2,177.9C145.7,179.8 146.1,181.7 146.4,183.7C146.7,185.7 147.0,187.6 147.3,189.6C147.5,191.6 147.7,193.6 147.9,195.6C148.1,197.6 148.2,199.5 148.4,201.5C148.5,203.5 148.6,205.5 148.7,207.5C148.8,209.5 148.8,211.5 148.8,213.5C148.9,215.5 148.9,217.5 148.8,219.5C148.8,221.5 148.8,223.5 148.7,225.5C148.7,227.5 148.6,229.5 148.6,231.5C148.5,233.5 148.4,235.5 148.3,237.5C148.2,239.5 148.1,241.5 147.9,243.5C147.8,245.5 147.7,247.5 147.5,249.5C147.4,251.5 147.3,253.5 147.1,255.5C147.0,257.5 146.8,259.5 146.7,261.5C146.5,263.5 146.4,265.5 146.3,267.5C146.1,269.4 146.0,271.4 145.9,273.4C145.7,275.4 145.6,277.4 145.5,279.4C145.4,281.4 145.3,283.4 145.2,285.4C145.1,287.4 145.0,289.4 144.9,291.4C144.8,293.4 144.7,295.4 144.6,297.4C144.6,299.4 144.5,301.4 144.4,303.4C144.3,305.4 144.3,307.4 144.2,309.4C144.1,311.4 144.1,313.4 144.0,315.4C144.0,317.4 143.9,319.4 143.8,321.4C143.8,323.4 143.7,325.4 143.7,327.4C143.6,329.4 143.5,331.4 143.5,333.4C143.4,335.4 143.4,337.4 143.3,339.4C143.2,341.4 143.2,343.4 143.1,345.4C143.0,347.4 142.9,349.4 142.9,351.4C142.8,353.4 142.7,355.4 142.6,357.4C142.5,359.4 142.4,361.8 142.3,363.4C142.2,365.0 142.1,366.4 142.1,367.0" stroke="#585858"/>
<path d="M332.8,42.5C331.9,42.8 329.0,43.8 327.1,44.5C325.2,45.2 323.3,45.8 321.4,46.5C319.5,47.2 317.6,47.8 315.7,48.5C313.8,49.1 311.9,49.8 310.0,50.4C308.1,51.1 306.2,51.7 304.3,52.3C302.4,53.0 300.5,53.6 298.6,54.3C296.7,54.9 294.8,55.5 292.9,56.2C291.0,56.8 289.1,57.5 287.2,58.1C285.3,58.7 283.4,59.4 281.5,60.0C279.6,60.6 277.7,61.2 275.8,61.9C273.9,62.5 272.0,63.1 270.1,63.8C268.2,64.4 266.3,65.0 264.4,65.6C262.5,66.3 260.6,66.9 258.7,67.5C256.8,68.2 254.9,68.8 253.1,69.4C251.2,70.0 249.3,70.7 247.4,71.3C245.5,71.9 243.6,72.6 241.7,73.2C239.8,73.8 237.9,74.5 236.0,75.1C234.1,75.7 232.2,76.4 230.3,77.0C228.4,77.6 226.6,78.3 224.7,78.9C222.8,79.6 220.9,80.2 219.0,80.9C217.1,81.5 215.2,82.2 213.4,82.8C211.5,83.5 209.6,84.1 207.7,84.8C205.8,85.4 204.0,86.1 202.1,86.7C200.2,87.4 198.3,88.1 196.5,88.7C194.6,89.4 192.7,90.1 190.9,90.8C189.0,91.5 187.1,92.1 185.3,92.8C183.4,93.5 181.6,94.2 179.7,94.9C177.9,95.6 176.0,96.3 174.2,97.0C172.3,97.8 170.5,98.5 168.7,99.2C166.8,100.0 165.0,100.7 163.2,101.5C161.3,102.2 159.5,103.0 157.7,103.7C155.9,104.5 154.1,105.3 152.3,106.1C150.5,106.9 148.7,107.7 147.0,108.5C145.2,109.4 143.4,110.2 141.7,111.1C139.9,112.0 138.2,112.8 136.5,113.7C134.8,114.7 133.0,115.6 131.4,116.6C129.7,117.5 128.0,118.5 126.4,119.5C124.8,120.6 123.2,121.6 121.7,122.8C120.2,123.9 118.6,125.0 117.4,126.3C116.2,127.6 114.9,128.9 114.3,130.5C113.6,132.1 113.5,134.1 113.5,136.0C113.6,137.9 114.0,140.0 114.4,142.0C114.8,144.0 115.1,146.0 115.8,147.9C116.6,149.8 117.7,151.8 119.0,153.5C120.2,155.3 121.7,156.8 123.2,158.3C124.6,159.8 126.0,161.2 127.5,162.6C128.9,164.0 130.4,165.4 131.8,166.8C133.2,168.2 134.6,169.6 136.0,171.0C137.4,172.4 138.8,173.8 140.1,175.3C141.4,176.7 142.7,178.2 144.0,179.7C145.2,181.2 146.3,182.7 147.4,184.3C148.5,185.9 149.5,187.6 150.4,189.3C151.4,191.0 152.2,192.8 152.9,194.6C153.7,196.4 154.3,198.3 154.9,200.1C155.5,202.0 155.9,203.9 156.3,205.9C156.7,207.8 157.0,209.8 157.2,211.8C157.4,213.8 157.6,215.7 157.7,217.7C157.8,219.7 157.8,221.7 157.8,223.7C157.8,225.7 157.7,227.7 157.7,229.7C157.6,231.7 157.6,233.7 157.5,235.7C157.4,237.7 157.4,239.7 157.3,241.7C157.3,243.7 157.2,245.7 157.2,247.7C157.2,249.7 157.1,251.7 157.1,253.7C157.1,255.7 157.0,257.7 157.0,259.7C157.0,261.7 157.0,263.7 156.9,265.7C156.9,267.7 156.9,269.7 156.9,271.7C156.9,273.7 156.8,275.7 156.8,277.7C156.8,279.7 156.8,281.7 156.7,283.7C156.7,285.7 156.7,287.7 156.6,289.7C156.6,291.7 156.6,293.7 156.5,295.7C156.5,297.7 156.4,299.7 156.4,301.7C156.3,303.7 156.3,305.7 156.2,307.7C156.2,309.7 156.1,311.7 156.1,313.7C156.0,315.7 156.0,317.7 155.9,319.7C155.9,321.7 155.8,323.7 155.7,325.7C155.7,327.7 155.6,329.7 155.6,331.7C155.5,333.7 155.5,335.7 155.4,337.7C155.4,339.7 155.3,341.7 155.3,343.7C155.2,345.7 155.2,347.7 155.1,349.7C155.1,351.7 155.1,353.7 155.0,355.7C155.0,357.7 154.9,359.8 154.9,361.7C154.9,363.6 154.9,366.1 154.9,367.0" stroke="#ff4a5a"/>
<path d="M418.6,42.5C417.7,42.8 414.8,43.7 412.9,44.3C411.0,44.8 409.1,45.4 407.2,46.0C405.2,46.6 403.3,47.2 401.4,47.8C399.5,48.4 397.6,49.0 395.7,49.6C393.8,50.2 391.9,50.7 390.0,51.3C388.1,51.9 386.2,52.5 384.3,53.1C382.3,53.7 380.4,54.3 378.5,54.9C376.6,55.5 374.7,56.1 372.8,56.7C370.9,57.3 369.0,57.9 367.1,58.5C365.2,59.1 363.3,59.7 361.4,60.3C359.4,60.9 357.5,61.5 355.6,62.1C353.7,62.7 351.8,63.3 349.9,63.8C348.0,64.4 346.1,65.0 344.2,65.6C342.3,66.2 340.4,66.8 338.5,67.4C336.6,68.0 334.6,68.6 332.7,69.2C330.8,69.8 328.9,70.4 327.0,71.0C325.1,71.6 323.2,72.2 321.3,72.8C319.4,73.4 317.5,74.0 315.6,74.6C313.7,75.2 311.7,75.8 309.8,76.4C307.9,77.0 306.0,77.6 304.1,78.2C302.2,78.8 300.3,79.4 298.4,80.0C296.5,80.6 294.6,81.2 292.7,81.8C290.7,82.4 288.8,83.0 286.9,83.6C285.0,84.2 283.1,84.8 281.2,85.4C279.3,86.0 277.4,86.6 275.5,87.2C273.6,87.8 271.6,88.4 269.7,89.0C267.8,89.5 265.9,90.1 264.0,90.7C262.1,91.3 260.2,91.9 258.3,92.5C256.4,93.1 254.5,93.7 252.6,94.3C250.7,94.9 248.8,95.5 246.9,96.1C245.0,96.7 243.1,97.3 241.2,97.9C239.3,98.5 237.4,99.2 235.6,99.8C233.7,100.4 231.8,101.0 229.9,101.7C228.1,102.3 226.2,102.9 224.3,103.6C222.5,104.2 220.6,104.9 218.8,105.6C216.9,106.2 215.1,106.9 213.3,107.6C211.4,108.3 209.6,109.0 207.8,109.8C206.0,110.5 204.1,111.2 202.3,112.0C200.5,112.7 198.7,113.5 196.9,114.3C195.1,115.1 193.4,115.9 191.6,116.7C189.8,117.5 188.0,118.4 186.3,119.2C184.5,120.1 182.8,120.9 181.0,121.8C179.3,122.7 177.6,123.7 175.9,124.6C174.1,125.5 172.4,126.5 170.7,127.5C169.0,128.5 167.3,129.4 165.7,130.5C164.0,131.5 162.3,132.5 160.7,133.6C159.0,134.7 157.4,135.7 155.8,136.8C154.1,137.9 152.5,139.0 150.9,140.2C149.3,141.3 147.7,142.5 146.1,143.6C144.5,144.8 142.9,146.0 141.4,147.2C139.9,148.4 138.4,149.6 136.9,150.9C135.4,152.2 134.0,153.5 132.6,154.8C131.2,156.2 129.9,157.6 128.6,159.0C127.3,160.5 126.0,162.0 124.9,163.5C123.7,165.0 122.6,166.6 121.5,168.2C120.5,169.9 119.5,171.6 118.6,173.3C117.7,175.0 116.8,176.8 116.0,178.6C115.1,180.4 114.3,182.2 113.5,184.0C112.7,185.8 111.8,187.7 111.1,189.5C110.3,191.3 109.6,193.2 108.9,195.0C108.3,196.9 107.6,198.8 107.0,200.7C106.4,202.6 105.9,204.5 105.4,206.4C104.8,208.3 104.4,210.3 103.9,212.2C103.5,214.1 103.1,216.1 102.7,218.1C102.4,220.0 102.0,222.0 101.7,224.0C101.4,225.9 101.2,227.9 101.0,229.9C100.7,231.9 100.5,233.9 100.3,235.8C100.2,237.8 100.0,239.8 99.9,241.8C99.8,243.8 99.7,245.8 99.6,247.8C99.5,249.8 99.5,251.8 99.4,253.8C99.4,255.8 99.3,257.8 99.3,259.8C99.3,261.8 99.3,263.8 99.3,265.8C99.3,267.8 99.3,269.8 99.3,271.8C99.3,273.8 99.3,275.8 99.4,277.8C99.4,279.8 99.4,281.8 99.4,283.8C99.4,285.8 99.5,287.8 99.5,289.8C99.5,291.8 99.5,293.8 99.5,295.8C99.6,297.8 99.6,299.8 99.6,301.8C99.6,303.8 99.7,305.8 99.7,307.8C99.7,309.8 99.7,311.8 99.8,313.8C99.8,315.8 99.8,317.8 99.8,319.8C99.9,321.8 99.9,323.8 99.9,325.8C99.9,327.8 100.0,329.8 100.0,331.8C100.0,333.8 100.0,335.8 100.1,337.8C100.1,339.8 100.1,341.8 100.2,343.8C100.2,345.8 100.2,347.8 100.3,349.8C100.3,351.8 100.3,353.8 100.4,355.8C100.4,357.8 100.4,359.9 100.5,361.8C100.5,363.7 100.5,366.1 100.6,367.0" stroke="#c08af0"/>
<path d="M297.3,42.5C296.5,43.0 293.9,44.6 292.2,45.7C290.5,46.8 288.7,47.8 287.0,48.8C285.3,49.9 283.6,50.9 281.8,51.9C280.1,53.0 278.4,54.0 276.7,55.0C274.9,56.0 273.2,57.0 271.5,58.1C269.7,59.1 268.0,60.1 266.2,61.1C264.5,62.1 262.8,63.1 261.0,64.1C259.3,65.1 257.6,66.1 255.8,67.1C254.1,68.0 252.4,69.0 250.6,70.0C248.9,71.0 247.1,72.0 245.4,73.0C243.7,74.0 242.0,75.0 240.2,76.0C238.5,77.0 236.8,78.0 235.0,79.0C233.3,80.0 231.6,81.0 229.9,82.0C228.2,83.0 226.5,84.0 224.7,85.1C223.0,86.1 221.3,87.1 219.6,88.1C217.9,89.2 216.2,90.2 214.6,91.2C212.9,92.3 211.2,93.3 209.5,94.4C207.8,95.5 206.1,96.5 204.5,97.6C202.8,98.7 201.2,99.8 199.5,100.8C197.8,101.9 196.2,103.0 194.5,104.2C192.9,105.3 191.3,106.4 189.6,107.5C188.0,108.6 186.4,109.8 184.8,110.9C183.1,112.1 181.5,113.2 179.9,114.4C178.3,115.6 176.7,116.7 175.1,117.9C173.6,119.1 172.0,120.3 170.4,121.5C168.8,122.7 167.3,124.0 165.7,125.2C164.2,126.4 162.6,127.6 161.1,128.9C159.5,130.1 158.0,131.4 156.5,132.7C155.0,134.0 153.5,135.2 152.0,136.5C150.5,137.8 149.0,139.1 147.5,140.5C146.0,141.8 144.6,143.1 143.2,144.5C141.7,145.8 140.3,147.2 138.9,148.6C137.5,150.0 136.1,151.4 134.8,152.8C133.4,154.3 132.1,155.7 130.8,157.2C129.5,158.7 128.2,160.2 127.0,161.7C125.8,163.2 124.6,164.8 123.5,166.4C122.3,168.0 121.3,169.6 120.3,171.3C119.3,173.0 118.4,174.7 117.5,176.5C116.6,178.2 115.8,180.0 115.0,181.8C114.2,183.6 113.4,185.5 112.7,187.3C111.9,189.2 111.2,191.0 110.5,192.9C109.9,194.7 109.2,196.6 108.6,198.5C108.0,200.4 107.5,202.3 106.9,204.2C106.4,206.2 105.9,208.1 105.5,210.0C105.0,212.0 104.6,213.9 104.3,215.9C103.9,217.8 103.6,219.8 103.3,221.8C103.0,223.7 102.7,225.7 102.5,227.7C102.2,229.7 102.0,231.7 101.9,233.7C101.7,235.7 101.5,237.6 101.4,239.6C101.3,241.6 101.2,243.6 101.1,245.6C101.1,247.6 101.0,249.6 101.0,251.6C100.9,253.6 100.9,255.6 100.9,257.6C100.9,259.6 100.9,261.6 101.0,263.6C101.0,265.6 101.0,267.6 101.1,269.6C101.1,271.6 101.1,273.6 101.2,275.6C101.2,277.6 101.3,279.6 101.4,281.6C101.4,283.6 101.5,285.6 101.5,287.6C101.6,289.6 101.6,291.6 101.7,293.6C101.7,295.6 101.8,297.6 101.8,299.6C101.8,301.6 101.9,303.6 101.9,305.6C102.0,307.6 102.0,309.6 102.1,311.6C102.1,313.6 102.2,315.6 102.2,317.6C102.3,319.6 102.3,321.6 102.4,323.6C102.4,325.6 102.5,327.6 102.5,329.6C102.6,331.6 102.6,333.6 102.7,335.6C102.7,337.6 102.8,339.6 102.9,341.6C102.9,343.6 103.0,345.6 103.1,347.6C103.1,349.6 103.2,351.6 103.3,353.6C103.4,355.6 103.4,357.6 103.5,359.6C103.6,361.6 103.8,364.3 103.8,365.6C103.9,366.8 103.9,366.8 103.9,367.0" stroke="#a526e2"/>
<path d="M341.0,42.5C340.1,42.9 337.4,44.2 335.5,45.0C333.7,45.9 331.9,46.7 330.0,47.5C328.2,48.3 326.4,49.1 324.5,50.0C322.7,50.8 320.9,51.6 319.0,52.4C317.2,53.2 315.4,54.0 313.6,54.8C311.8,55.7 309.9,56.5 308.1,57.3C306.3,58.1 304.5,58.9 302.7,59.8C300.9,60.6 299.1,61.4 297.3,62.3C295.5,63.1 293.7,63.9 291.9,64.8C290.1,65.7 288.4,66.5 286.6,67.4C284.8,68.3 283.1,69.2 281.3,70.1C279.5,71.0 277.8,71.9 276.0,72.8C274.2,73.7 272.5,74.6 270.7,75.5C268.9,76.5 267.1,77.4 265.4,78.3C263.6,79.2 261.8,80.1 260.0,81.1C258.2,82.0 256.4,82.9 254.6,83.8C252.8,84.7 251.0,85.6 249.2,86.5C247.3,87.4 245.5,88.2 243.7,89.1C241.9,90.0 240.0,90.8 238.2,91.7C236.4,92.5 234.6,93.4 232.8,94.2C230.9,95.0 229.1,95.9 227.3,96.7C225.5,97.6 223.7,98.4 221.9,99.2C220.1,100.1 218.2,100.9 216.4,101.8C214.7,102.6 212.9,103.4 211.1,104.3C209.3,105.2 207.5,106.0 205.8,106.9C204.0,107.8 202.2,108.7 200.5,109.6C198.8,110.5 197.0,111.4 195.3,112.3C193.6,113.3 191.9,114.2 190.3,115.2C188.6,116.2 186.9,117.2 185.3,118.3C183.8,119.4 182.2,120.5 180.7,121.6C179.2,122.8 177.8,124.0 176.3,125.3C174.9,126.6 173.5,127.9 172.0,129.3C170.6,130.7 169.0,132.1 167.5,133.4C165.9,134.8 164.3,136.1 162.6,137.3C161.0,138.6 159.3,139.7 157.6,140.9C156.0,142.1 154.3,143.2 152.6,144.4C150.9,145.5 149.3,146.6 147.6,147.7C146.0,148.8 144.3,150.0 142.7,151.1C141.1,152.2 139.5,153.3 138.0,154.5C136.4,155.7 134.9,156.9 133.5,158.1C132.0,159.4 130.7,160.7 129.4,162.1C128.1,163.5 126.9,165.0 125.8,166.5C124.7,168.1 123.7,169.7 122.7,171.4C121.7,173.1 120.8,174.8 119.9,176.6C119.0,178.3 118.0,180.1 117.2,181.9C116.3,183.7 115.4,185.5 114.6,187.3C113.8,189.1 113.0,190.9 112.2,192.7C111.5,194.5 110.8,196.4 110.1,198.3C109.5,200.1 108.9,202.0 108.3,203.9C107.8,205.8 107.3,207.8 106.9,209.7C106.5,211.7 106.1,213.6 105.7,215.6C105.4,217.5 105.1,219.5 104.9,221.5C104.7,223.5 104.5,225.5 104.4,227.4C104.2,229.4 104.1,231.4 104.1,233.4C104.0,235.4 104.0,237.4 104.0,239.4C104.0,241.4 104.0,243.4 104.1,245.4C104.2,247.4 104.3,249.4 104.4,251.4C104.5,253.4 104.7,255.4 104.9,257.4C105.0,259.4 105.2,261.4 105.4,263.4C105.6,265.4 105.8,267.4 106.0,269.4C106.2,271.4 106.5,273.3 106.7,275.3C106.9,277.3 107.2,279.3 107.4,281.3C107.6,283.3 107.8,285.3 108.1,287.2C108.3,289.2 108.5,291.2 108.7,293.2C108.9,295.2 109.1,297.2 109.4,299.2C109.6,301.2 109.8,303.2 110.0,305.1C110.2,307.1 110.4,309.1 110.6,311.1C110.8,313.1 111.0,315.1 111.2,317.1C111.4,319.1 111.7,321.1 111.9,323.0C112.1,325.0 112.3,327.0 112.5,329.0C112.7,331.0 112.9,333.0 113.1,335.0C113.3,337.0 113.6,339.0 113.8,340.9C114.0,342.9 114.2,344.9 114.4,346.9C114.7,348.9 114.9,350.9 115.1,352.9C115.4,354.9 115.6,356.8 115.8,358.8C116.1,360.8 116.4,363.4 116.6,364.8C116.7,366.1 116.8,366.6 116.8,367.0" stroke="#20d820"/>
<path d="M371.9,42.5C370.9,42.8 368.1,43.8 366.2,44.4C364.3,45.0 362.4,45.7 360.5,46.3C358.6,47.0 356.7,47.6 354.8,48.3C353.0,48.9 351.1,49.5 349.2,50.2C347.3,50.8 345.4,51.5 343.5,52.1C341.6,52.8 339.8,53.4 337.9,54.1C336.0,54.8 334.1,55.4 332.2,56.1C330.3,56.7 328.4,57.4 326.6,58.0C324.7,58.7 322.8,59.4 320.9,60.0C319.0,60.7 317.1,61.3 315.3,62.0C313.4,62.7 311.5,63.3 309.6,64.0C307.7,64.7 305.8,65.3 304.0,66.0C302.1,66.7 300.2,67.3 298.3,68.0C296.4,68.7 294.5,69.3 292.7,70.0C290.8,70.7 288.9,71.4 287.0,72.0C285.1,72.7 283.3,73.4 281.4,74.0C279.5,74.7 277.6,75.4 275.7,76.1C273.8,76.7 272.0,77.4 270.1,78.1C268.2,78.8 266.3,79.4 264.4,80.1C262.6,80.8 260.7,81.5 258.8,82.1C256.9,82.8 255.0,83.5 253.1,84.2C251.3,84.8 249.4,85.5 247.5,86.2C245.6,86.9 243.7,87.5 241.9,88.2C240.0,88.9 238.1,89.6 236.2,90.3C234.4,91.0 232.5,91.6 230.6,92.3C228.8,93.0 226.9,93.7 225.0,94.4C223.2,95.1 221.3,95.8 219.4,96.5C217.6,97.2 215.7,97.9 213.8,98.6C212.0,99.3 210.1,100.0 208.3,100.7C206.4,101.4 204.6,102.1 202.8,102.9C200.9,103.6 199.1,104.3 197.3,105.1C195.5,105.8 193.6,106.6 191.8,107.4C190.0,108.1 188.2,108.9 186.5,109.7C184.7,110.5 182.9,111.4 181.2,112.2C179.4,113.1 177.7,113.9 176.0,114.8C174.3,115.7 172.6,116.7 171.0,117.6C169.3,118.6 167.7,119.6 166.2,120.7C164.6,121.8 163.1,122.9 161.6,124.1C160.1,125.3 158.7,126.5 157.3,127.9C155.8,129.2 154.5,130.5 153.1,131.9C151.8,133.3 150.5,134.8 149.3,136.3C148.0,137.8 146.9,139.3 145.8,140.9C144.8,142.5 143.8,144.2 143.0,145.9C142.1,147.7 141.4,149.5 140.8,151.3C140.1,153.2 139.6,155.1 139.2,157.0C138.7,158.9 138.4,160.9 138.1,162.9C137.9,164.8 137.7,166.8 137.6,168.8C137.5,170.8 137.4,172.8 137.4,174.8C137.4,176.8 137.5,178.8 137.6,180.8C137.7,182.8 137.8,184.8 137.9,186.8C138.0,188.8 138.2,190.8 138.4,192.8C138.5,194.8 138.7,196.8 138.8,198.8C138.9,200.8 139.1,202.7 139.2,204.7C139.3,206.7 139.5,208.7 139.6,210.7C139.7,212.7 139.9,214.7 140.0,216.7C140.1,218.7 140.2,220.7 140.4,222.7C140.5,224.7 140.6,226.7 140.8,228.7C140.9,230.7 141.1,232.7 141.2,234.7C141.4,236.7 141.5,238.7 141.7,240.7C141.8,242.7 142.0,244.6 142.2,246.6C142.4,248.6 142.6,250.6 142.8,252.6C143.0,254.6 143.2,256.6 143.5,258.6C143.7,260.6 143.9,262.6 144.2,264.5C144.5,266.5 144.8,268.5 145.1,270.5C145.4,272.5 145.7,274.4 146.0,276.4C146.4,278.4 146.7,280.4 147.1,282.3C147.5,284.3 147.9,286.3 148.3,288.2C148.7,290.2 149.1,292.1 149.5,294.1C150.0,296.0 150.4,298.0 150.8,300.0C151.3,301.9 151.7,303.9 152.1,305.8C152.6,307.8 153.0,309.7 153.4,311.7C153.8,313.6 154.2,315.6 154.6,317.5C155.0,319.5 155.3,321.5 155.7,323.4C156.0,325.4 156.3,327.4 156.6,329.4C156.9,331.3 157.1,333.3 157.4,335.3C157.7,337.3 157.9,339.3 158.1,341.2C158.4,343.2 158.6,345.2 158.9,347.2C159.2,349.2 159.5,351.2 159.8,353.1C160.1,355.1 160.4,357.1 160.8,359.1C161.2,361.0 161.7,363.6 162.0,365.0C162.3,366.3 162.4,366.7 162.5,367.0" stroke="#2f7af2"/>
<path d="M398.2,42.5C397.3,42.8 394.4,43.7 392.5,44.3C390.6,45.0 388.7,45.6 386.9,46.2C385.0,46.8 383.1,47.5 381.2,48.1C379.3,48.7 377.4,49.3 375.5,50.0C373.6,50.6 371.7,51.2 369.8,51.9C367.9,52.5 366.1,53.1 364.2,53.8C362.3,54.4 360.4,55.1 358.5,55.7C356.6,56.3 354.7,57.0 352.8,57.6C350.9,58.3 349.1,58.9 347.2,59.6C345.3,60.2 343.4,60.9 341.5,61.5C339.6,62.2 337.7,62.8 335.8,63.5C334.0,64.1 332.1,64.8 330.2,65.4C328.3,66.1 326.4,66.8 324.5,67.4C322.6,68.1 320.7,68.7 318.9,69.4C317.0,70.0 315.1,70.7 313.2,71.4C311.3,72.0 309.4,72.7 307.5,73.3C305.6,74.0 303.7,74.6 301.8,75.3C299.9,75.9 298.1,76.6 296.2,77.3C294.3,77.9 292.4,78.6 290.5,79.2C288.6,79.9 286.7,80.5 284.8,81.2C282.9,81.8 281.0,82.5 279.1,83.1C277.2,83.8 275.3,84.4 273.4,85.1C271.5,85.7 269.7,86.4 267.8,87.0C265.9,87.6 264.0,88.3 262.1,88.9C260.2,89.6 258.3,90.2 256.4,90.9C254.6,91.5 252.7,92.2 250.8,92.9C248.9,93.5 247.0,94.2 245.2,94.8C243.3,95.5 241.4,96.2 239.6,96.8C237.7,97.5 235.8,98.2 234.0,98.9C232.1,99.6 230.3,100.3 228.4,101.0C226.6,101.7 224.7,102.4 222.9,103.1C221.0,103.8 219.2,104.5 217.4,105.2C215.5,106.0 213.7,106.7 211.9,107.5C210.1,108.2 208.3,109.0 206.5,109.8C204.7,110.6 202.9,111.4 201.2,112.2C199.4,113.0 197.6,113.8 195.9,114.7C194.2,115.6 192.4,116.5 190.7,117.4C189.1,118.3 187.4,119.3 185.8,120.3C184.1,121.3 182.5,122.3 181.0,123.4C179.4,124.5 177.9,125.6 176.4,126.8C174.9,128.0 173.5,129.3 172.1,130.6C170.7,131.9 169.3,133.3 168.1,134.7C166.8,136.1 165.5,137.6 164.3,139.2C163.2,140.7 162.0,142.3 160.9,143.9C159.8,145.5 158.8,147.2 157.9,148.9C156.9,150.6 156.1,152.4 155.3,154.2C154.6,156.0 153.9,157.8 153.4,159.7C152.8,161.6 152.4,163.5 152.1,165.5C151.7,167.4 151.4,169.4 151.2,171.4C150.9,173.3 150.7,175.3 150.4,177.3C150.2,179.3 149.9,181.3 149.6,183.3C149.2,185.2 148.9,187.2 148.5,189.2C148.1,191.2 147.7,193.1 147.3,195.1C146.9,197.0 146.5,199.0 146.1,200.9C145.7,202.9 145.3,204.9 144.9,206.8C144.5,208.8 144.1,210.8 143.8,212.7C143.4,214.7 143.0,216.6 142.7,218.6C142.3,220.6 142.0,222.5 141.6,224.5C141.3,226.5 140.9,228.4 140.6,230.4C140.2,232.4 139.9,234.4 139.6,236.3C139.2,238.3 138.9,240.3 138.6,242.2C138.3,244.2 137.9,246.2 137.6,248.2C137.3,250.1 137.0,252.1 136.7,254.1C136.4,256.1 136.1,258.0 135.8,260.0C135.5,262.0 135.2,264.0 134.9,266.0C134.6,267.9 134.3,269.9 134.0,271.9C133.8,273.9 133.5,275.9 133.2,277.8C132.9,279.8 132.6,281.8 132.4,283.8C132.1,285.8 131.8,287.7 131.5,289.7C131.3,291.7 131.0,293.7 130.7,295.7C130.5,297.6 130.2,299.6 129.9,301.6C129.7,303.6 129.4,305.6 129.1,307.6C128.9,309.5 128.6,311.5 128.4,313.5C128.1,315.5 127.8,317.5 127.6,319.5C127.3,321.4 127.1,323.4 126.8,325.4C126.6,327.4 126.3,329.4 126.0,331.4C125.8,333.3 125.5,335.3 125.3,337.3C125.0,339.3 124.8,341.3 124.5,343.3C124.2,345.2 124.0,347.2 123.7,349.2C123.5,351.2 123.2,353.2 122.9,355.1C122.7,357.1 122.4,359.1 122.1,361.1C121.9,363.1 121.5,366.0 121.4,367.0" stroke="#ff8a40"/>
<path d="M371.0,42.5C370.2,43.0 367.7,44.5 366.0,45.5C364.3,46.5 362.7,47.6 361.0,48.6C359.4,49.7 357.8,50.8 356.2,51.9C354.6,53.0 353.0,54.2 351.4,55.3C349.8,56.5 348.2,57.7 346.7,58.9C345.1,60.1 343.5,61.3 342.0,62.6C340.4,63.8 338.9,65.0 337.3,66.3C335.8,67.5 334.2,68.8 332.7,70.0C331.1,71.3 329.5,72.6 328.0,73.8C326.4,75.1 324.8,76.3 323.2,77.5C321.6,78.8 320.0,80.0 318.3,81.2C316.7,82.4 315.0,83.6 313.4,84.7C311.7,85.9 310.0,87.1 308.4,88.2C306.7,89.3 305.1,90.5 303.4,91.6C301.7,92.7 300.1,93.8 298.4,94.9C296.8,96.1 295.1,97.2 293.5,98.3C291.8,99.4 290.2,100.5 288.6,101.7C287.0,102.8 285.4,104.0 283.8,105.1C282.2,106.3 280.6,107.5 279.0,108.7C277.4,109.9 275.8,111.1 274.3,112.3C272.7,113.5 271.1,114.7 269.6,115.9C268.0,117.2 266.5,118.4 264.9,119.7C263.4,120.9 261.8,122.2 260.3,123.4C258.7,124.7 257.2,126.0 255.6,127.2C254.0,128.5 252.5,129.7 250.9,131.0C249.3,132.2 247.7,133.5 246.1,134.7C244.5,135.9 242.9,137.1 241.2,138.3C239.6,139.5 237.9,140.7 236.3,141.9C234.6,143.0 233.0,144.2 231.3,145.3C229.7,146.5 228.0,147.6 226.4,148.7C224.7,149.9 223.1,151.0 221.5,152.1C219.9,153.3 218.3,154.4 216.7,155.6C215.1,156.8 213.6,158.0 212.0,159.2C210.5,160.4 209.0,161.6 207.6,162.9C206.1,164.2 204.7,165.6 203.4,166.9C202.0,168.3 200.7,169.7 199.4,171.2C198.1,172.6 196.9,174.1 195.7,175.7C194.5,177.2 193.4,178.8 192.4,180.5C191.3,182.1 190.3,183.8 189.4,185.5C188.5,187.2 187.6,189.0 186.9,190.8C186.1,192.6 185.4,194.5 184.8,196.3C184.1,198.2 183.6,200.1 183.0,202.0C182.5,203.9 182.1,205.9 181.7,207.8C181.3,209.8 181.0,211.7 180.7,213.7C180.5,215.7 180.3,217.7 180.1,219.6C180.0,221.6 179.9,223.6 179.8,225.6C179.8,227.6 179.8,229.6 179.9,231.6C179.9,233.6 180.0,235.6 180.2,237.6C180.3,239.6 180.5,241.6 180.8,243.6C181.0,245.6 181.3,247.6 181.6,249.6C181.8,251.6 182.2,253.5 182.5,255.5C182.9,257.5 183.3,259.5 183.6,261.4C184.0,263.4 184.5,265.3 184.9,267.3C185.3,269.3 185.8,271.2 186.2,273.2C186.7,275.1 187.2,277.1 187.6,279.0C188.1,280.9 188.6,282.9 189.1,284.8C189.6,286.8 190.0,288.7 190.5,290.6C191.0,292.6 191.5,294.5 192.0,296.5C192.5,298.4 193.0,300.3 193.4,302.3C193.9,304.2 194.4,306.2 194.9,308.1C195.3,310.1 195.8,312.0 196.3,313.9C196.7,315.9 197.2,317.8 197.7,319.8C198.1,321.7 198.6,323.7 199.0,325.6C199.5,327.6 199.9,329.5 200.3,331.5C200.7,333.4 201.2,335.4 201.6,337.3C202.0,339.3 202.4,341.2 202.7,343.2C203.1,345.2 203.5,347.1 203.9,349.1C204.2,351.1 204.6,353.0 204.9,355.0C205.2,357.0 205.5,358.9 205.8,360.9C206.1,362.9 206.5,365.8 206.7,366.8C206.8,367.9 206.7,367.0 206.7,367.0" stroke="#3cb478"/>
<path d="M441.8,42.5C440.9,42.9 438.2,44.2 436.4,45.1C434.6,45.9 432.8,46.8 431.0,47.7C429.2,48.5 427.4,49.4 425.6,50.3C423.8,51.1 422.0,52.0 420.2,52.9C418.4,53.7 416.6,54.6 414.8,55.5C413.0,56.4 411.2,57.2 409.4,58.1C407.6,59.0 405.8,59.9 404.0,60.7C402.2,61.6 400.4,62.5 398.6,63.4C396.9,64.3 395.1,65.1 393.3,66.0C391.5,66.9 389.7,67.8 387.9,68.7C386.1,69.6 384.4,70.5 382.6,71.4C380.8,72.3 379.0,73.2 377.2,74.1C375.5,75.0 373.7,75.9 371.9,76.8C370.2,77.7 368.4,78.6 366.6,79.5C364.8,80.5 363.1,81.4 361.3,82.3C359.6,83.2 357.8,84.2 356.0,85.1C354.3,86.0 352.5,87.0 350.8,87.9C349.0,88.9 347.3,89.8 345.5,90.8C343.8,91.7 342.0,92.7 340.3,93.6C338.6,94.6 336.8,95.6 335.1,96.5C333.4,97.5 331.6,98.5 329.9,99.5C328.2,100.5 326.5,101.5 324.7,102.5C323.0,103.5 321.3,104.5 319.6,105.5C317.9,106.5 316.2,107.5 314.5,108.5C312.8,109.6 311.1,110.6 309.4,111.7C307.8,112.7 306.1,113.8 304.4,114.8C302.7,115.9 301.1,117.0 299.4,118.1C297.8,119.2 296.1,120.3 294.5,121.4C292.9,122.5 291.2,123.6 289.6,124.7C288.0,125.9 286.4,127.0 284.8,128.2C283.2,129.3 281.6,130.5 280.0,131.7C278.4,132.9 276.9,134.1 275.3,135.3C273.8,136.5 272.2,137.8 270.7,139.0C269.2,140.3 267.7,141.6 266.2,142.8C264.7,144.1 263.2,145.4 261.7,146.8C260.3,148.1 258.8,149.4 257.4,150.8C256.0,152.1 254.6,153.5 253.2,154.9C251.8,156.3 250.4,157.7 249.1,159.2C247.8,160.6 246.4,162.1 245.2,163.6C243.9,165.1 242.6,166.6 241.4,168.1C240.1,169.7 238.9,171.2 237.8,172.8C236.6,174.4 235.4,176.0 234.3,177.6C233.2,179.3 232.1,180.9 231.1,182.6C230.0,184.2 229.0,185.9 228.0,187.7C227.0,189.4 226.1,191.1 225.1,192.8C224.2,194.6 223.3,196.4 222.4,198.1C221.6,199.9 220.7,201.7 219.9,203.5C219.1,205.3 218.3,207.2 217.5,209.0C216.7,210.8 216.0,212.7 215.3,214.5C214.6,216.4 213.9,218.2 213.2,220.1C212.5,222.0 211.9,223.9 211.2,225.8C210.6,227.7 210.0,229.6 209.4,231.5C208.8,233.4 208.2,235.3 207.7,237.2C207.1,239.1 206.6,241.0 206.1,242.9C205.5,244.9 205.0,246.8 204.5,248.7C204.0,250.7 203.6,252.6 203.1,254.6C202.6,256.5 202.2,258.4 201.7,260.4C201.3,262.3 200.8,264.3 200.4,266.2C199.9,268.2 199.5,270.1 199.1,272.1C198.6,274.0 198.2,276.0 197.8,277.9C197.3,279.9 196.9,281.8 196.5,283.8C196.1,285.8 195.6,287.7 195.2,289.7C194.8,291.6 194.3,293.6 193.9,295.5C193.4,297.5 193.0,299.4 192.6,301.4C192.1,303.3 191.7,305.3 191.3,307.2C190.8,309.2 190.4,311.1 190.0,313.1C189.6,315.0 189.1,317.0 188.7,318.9C188.3,320.9 187.9,322.9 187.5,324.8C187.1,326.8 186.7,328.7 186.3,330.7C185.9,332.6 185.5,334.6 185.1,336.6C184.7,338.5 184.3,340.5 183.9,342.5C183.6,344.4 183.2,346.4 182.9,348.4C182.5,350.3 182.2,352.3 181.8,354.3C181.5,356.2 181.2,358.2 180.9,360.2C180.6,362.1 180.2,365.0 180.0,366.1C179.8,367.2 179.9,366.9 179.9,367.0" stroke="#d8a828"/>
<path d="M458.4,42.5C459.1,43.3 461.1,45.5 462.5,47.0C463.9,48.5 465.3,50.0 466.7,51.4C468.1,52.8 469.6,54.2 471.0,55.6C472.5,57.0 474.0,58.4 475.4,59.8C476.9,61.2 478.4,62.6 479.8,63.9C481.3,65.3 482.8,66.7 484.2,68.0C485.7,69.4 487.2,70.7 488.6,72.1C490.1,73.4 491.6,74.8 493.0,76.2C494.5,77.5 495.9,78.9 497.3,80.3C498.8,81.7 500.2,83.0 501.6,84.4C503.0,85.8 504.3,87.3 505.7,88.7C507.0,90.1 508.4,91.6 509.7,93.0C511.0,94.5 512.3,96.0 513.5,97.6C514.7,99.1 515.9,100.6 517.0,102.2C518.1,103.8 519.2,105.5 520.2,107.1C521.2,108.8 522.1,110.5 522.9,112.3C523.7,114.1 524.4,115.9 524.9,117.8C525.4,119.7 525.8,121.6 525.9,123.6C526.1,125.5 526.1,127.6 525.8,129.5C525.6,131.5 525.1,133.6 524.4,135.5C523.8,137.4 523.0,139.4 522.0,141.2C521.1,143.0 520.0,144.8 518.8,146.5C517.7,148.2 516.4,149.9 515.1,151.5C513.7,153.1 512.3,154.6 510.9,156.1C509.5,157.6 508.0,159.0 506.5,160.4C505.0,161.8 503.4,163.2 501.9,164.5C500.3,165.8 498.7,167.1 497.1,168.3C495.5,169.6 493.9,170.8 492.3,172.1C490.6,173.3 489.0,174.5 487.3,175.6C485.7,176.8 484.0,178.0 482.4,179.1C480.8,180.3 479.2,181.4 477.6,182.6C476.1,183.8 474.6,184.9 473.2,186.2C471.8,187.5 470.5,188.8 469.2,190.2C467.9,191.6 466.6,193.1 465.3,194.6C464.0,196.1 462.7,197.7 461.5,199.2C460.2,200.7 459.0,202.3 457.7,203.8C456.5,205.4 455.2,206.9 454.0,208.5C452.8,210.1 451.6,211.7 450.4,213.3C449.2,214.8 448.0,216.4 446.8,218.0C445.6,219.6 444.5,221.2 443.3,222.9C442.1,224.5 441.0,226.1 439.8,227.7C438.6,229.3 437.5,231.0 436.3,232.6C435.2,234.2 434.0,235.9 432.9,237.5C431.7,239.1 430.6,240.8 429.5,242.4C428.3,244.1 427.2,245.7 426.0,247.4C424.9,249.0 423.8,250.6 422.6,252.3C421.5,253.9 420.4,255.6 419.2,257.2C418.1,258.9 417.0,260.5 415.9,262.2C414.7,263.8 413.6,265.5 412.5,267.1C411.4,268.8 410.2,270.4 409.1,272.1C408.0,273.7 406.8,275.4 405.7,277.0C404.6,278.7 403.5,280.4 402.3,282.0C401.2,283.7 400.1,285.3 398.9,287.0C397.8,288.6 396.7,290.3 395.6,291.9C394.4,293.6 393.3,295.2 392.2,296.9C391.0,298.5 389.9,300.2 388.8,301.8C387.6,303.5 386.5,305.1 385.4,306.8C384.2,308.4 383.1,310.0 382.0,311.7C380.8,313.3 379.7,315.0 378.6,316.6C377.4,318.3 376.3,319.9 375.1,321.6C374.0,323.2 372.9,324.9 371.7,326.5C370.6,328.2 369.5,329.8 368.3,331.4C367.2,333.1 366.0,334.7 364.9,336.4C363.8,338.0 362.6,339.7 361.5,341.3C360.3,342.9 359.2,344.6 358.0,346.2C356.9,347.9 355.8,349.5 354.6,351.2C353.5,352.8 352.3,354.4 351.2,356.1C350.1,357.7 348.9,359.4 347.8,361.0C346.6,362.7 345.0,364.9 344.3,365.9C343.6,366.9 343.7,366.8 343.6,367.0" stroke="#2ccfd0"/>
</g>
<rect x="38.9" y="45.8" width="506.00" height="318.30" fill="none" stroke="#1a1a1a" stroke-width="1.5"/>
<path d="M49.50,45.8v5M49.50,364.1v-5M58.11,45.8v2.5M58.11,364.1v-2.5M66.72,45.8v2.5M66.72,364.1v-2.5M75.32,45.8v2.5M75.32,364.1v-2.5M83.93,45.8v2.5M83.93,364.1v-2.5M92.54,45.8v5M92.54,364.1v-5M101.15,45.8v2.5M101.15,364.1v-2.5M109.76,45.8v2.5M109.76,364.1v-2.5M118.36,45.8v2.5M118.36,364.1v-2.5M126.97,45.8v2.5M126.97,364.1v-2.5M135.58,45.8v5M135.58,364.1v-5M144.19,45.8v2.5M144.19,364.1v-2.5M152.80,45.8v2.5M152.80,364.1v-2.5M161.40,45.8v2.5M161.40,364.1v-2.5M170.01,45.8v2.5M170.01,364.1v-2.5M178.62,45.8v5M178.62,364.1v-5M187.23,45.8v2.5M187.23,364.1v-2.5M195.84,45.8v2.5M195.84,364.1v-2.5M204.44,45.8v2.5M204.44,364.1v-2.5M213.05,45.8v2.5M213.05,364.1v-2.5M221.66,45.8v5M221.66,364.1v-5M230.27,45.8v2.5M230.27,364.1v-2.5M238.88,45.8v2.5M238.88,364.1v-2.5M247.48,45.8v2.5M247.48,364.1v-2.5M256.09,45.8v2.5M256.09,364.1v-2.5M264.70,45.8v5M264.70,364.1v-5M273.31,45.8v2.5M273.31,364.1v-2.5M281.92,45.8v2.5M281.92,364.1v-2.5M290.52,45.8v2.5M290.52,364.1v-2.5M299.13,45.8v2.5M299.13,364.1v-2.5M307.74,45.8v5M307.74,364.1v-5M316.35,45.8v2.5M316.35,364.1v-2.5M324.96,45.8v2.5M324.96,364.1v-2.5M333.56,45.8v2.5M333.56,364.1v-2.5M342.17,45.8v2.5M342.17,364.1v-2.5M350.78,45.8v5M350.78,364.1v-5M359.39,45.8v2.5M359.39,364.1v-2.5M368.00,45.8v2.5M368.00,364.1v-2.5M376.60,45.8v2.5M376.60,364.1v-2.5M385.21,45.8v2.5M385.21,364.1v-2.5M393.82,45.8v5M393.82,364.1v-5M402.43,45.8v2.5M402.43,364.1v-2.5M411.04,45.8v2.5M411.04,364.1v-2.5M419.64,45.8v2.5M419.64,364.1v-2.5M428.25,45.8v2.5M428.25,364.1v-2.5M436.86,45.8v5M436.86,364.1v-5M445.47,45.8v2.5M445.47,364.1v-2.5M454.08,45.8v2.5M454.08,364.1v-2.5M462.68,45.8v2.5M462.68,364.1v-2.5M471.29,45.8v2.5M471.29,364.1v-2.5M479.90,45.8v5M479.90,364.1v-5M488.51,45.8v2.5M488.51,364.1v-2.5M497.12,45.8v2.5M497.12,364.1v-2.5M505.72,45.8v2.5M505.72,364.1v-2.5M514.33,45.8v2.5M514.33,364.1v-2.5M522.94,45.8v5M522.94,364.1v-5M38.9,72.04h3M544.9,72.04h-3M38.9,98.58h5M544.9,98.58h-5M38.9,125.12h3M544.9,125.12h-3M38.9,151.66h5M544.9,151.66h-5M38.9,204.74h3M544.9,204.74h-3M38.9,257.82h5M544.9,257.82h-5M38.9,310.90h3M544.9,310.90h-3" fill="none" stroke="#1a1a1a" stroke-width="1.3"/>
<text x="49.80" y="36.6" text-anchor="middle" class="t">0</text>
<text x="92.84" y="36.6" text-anchor="middle" class="t">2</text>
<text x="135.88" y="36.6" text-anchor="middle" class="t">4</text>
<text x="178.92" y="36.6" text-anchor="middle" class="t">6</text>
<text x="221.96" y="36.6" text-anchor="middle" class="t">8</text>
<text x="265.00" y="36.6" text-anchor="middle" class="t">10</text>
<text x="308.04" y="36.6" text-anchor="middle" class="t">12</text>
<text x="351.08" y="36.6" text-anchor="middle" class="t">14</text>
<text x="394.12" y="36.6" text-anchor="middle" class="t">16</text>
<text x="437.16" y="36.6" text-anchor="middle" class="t">18</text>
<text x="480.20" y="36.6" text-anchor="middle" class="t">20</text>
<text x="523.24" y="36.6" text-anchor="middle" class="t">22</text>
<text x="32.8" y="48.90" text-anchor="end" class="t">0</text>
<text x="32.8" y="101.98" text-anchor="end" class="t">10</text>
<text x="32.8" y="155.06" text-anchor="end" class="t">20</text>
<text x="32.8" y="261.22" text-anchor="end" class="t">40</text>
<text x="32.8" y="367.38" text-anchor="end" class="t">60</text>
<text x="291.6" y="17.4" text-anchor="middle" class="ti">Soil salinity (dS/m)</text>
<text transform="translate(14.1,204.3) rotate(-90)" text-anchor="middle" class="ti">Soil depth (cm)</text>
</svg>
</body></html>
